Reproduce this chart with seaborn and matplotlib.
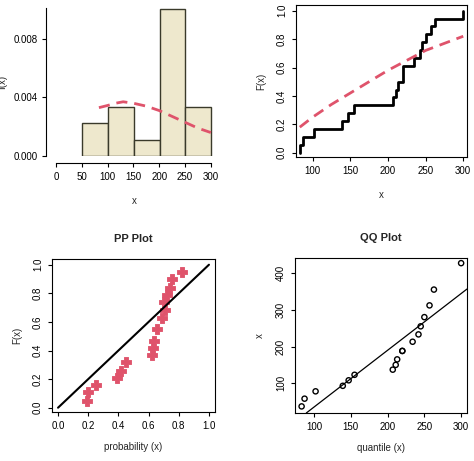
import numpy as np
import matplotlib
matplotlib.use('Agg')
import matplotlib.pyplot as plt
import seaborn as sns

# sorted sample
data = [83, 87, 102, 139, 147, 155, 207, 211, 213, 220, 220, 234, 242, 245, 250, 257, 263, 300]
# right-closed bins like R's hist
bin_edges = [50.5, 100.5, 150.5, 200.5, 250.5, 300.5]

# fitted curves
dens_x = [83, 100, 115, 130, 150, 175, 200, 225, 250, 275, 300]
dens_y = [0.0033, 0.00345, 0.0036, 0.0037, 0.0036, 0.0034, 0.0031, 0.0027, 0.0023, 0.0019, 0.0016]
cdf_x = [83, 100, 125, 150, 175, 200, 225, 250, 275, 300]
cdf_y = [0.18, 0.25, 0.34, 0.42, 0.50, 0.58, 0.65, 0.72, 0.77, 0.82]

pp_x = [0.19, 0.20, 0.25, 0.39, 0.42, 0.45, 0.62, 0.63, 0.635, 0.655, 0.69, 0.71, 0.70, 0.725, 0.74, 0.755, 0.82]
pp_y = [0.05, 0.11, 0.16, 0.21, 0.26, 0.32, 0.37, 0.42, 0.47, 0.55, 0.63, 0.68, 0.74, 0.79, 0.84, 0.90, 0.95]

qq_y = [37, 58, 78, 93, 108, 123, 137, 150, 165, 188, 188, 213, 233, 255, 280, 312, 355, 427]
qq_intercept = -119
qq_slope = 1.544

sns.set_style("ticks")
plt.rcParams['font.family'] = ['Liberation Sans', 'DejaVu Sans']
plt.rcParams['font.size'] = 7
red = '#DF536B'

fig = plt.figure(figsize=(4.74, 4.61), dpi=100)
W, H = 474, 461
def box(x0, y0, x1, y1):
    return fig.add_axes([x0 / W, 1 - y1 / H, (x1 - x0) / W, (y1 - y0) / H])

def rstyle(ax):
    for s in ax.spines.values():
        s.set_visible(True)
        s.set_color('black')
        s.set_linewidth(0.8)
    ax.tick_params(axis='both', labelsize=7, length=3, width=0.8, colors='black')
    for lab in ax.get_yticklabels():
        lab.set_rotation(90)
        lab.set_va('center')

# histogram
ax1 = box(52, 8, 216, 156)
sns.histplot(x=data, bins=bin_edges, stat='density', color='#EEE8CD', edgecolor='#3a3a2a',
             linewidth=1, alpha=1, ax=ax1)
sns.lineplot(x=dens_x, y=dens_y, color=red, lw=2, dashes=(4, 2.5), ax=ax1)
ax1.set_xlim(-8, 310)
ax1.set_ylim(0, 0.0101)
ax1.set_xticks([0, 50, 100, 150, 200, 250, 300])
ax1.set_yticks([0, 0.004, 0.008])
ax1.set_yticklabels(['0.000', '0.004', '0.008'])
rstyle(ax1)
ax1.spines['top'].set_visible(False)
ax1.spines['right'].set_visible(False)
ax1.spines['left'].set_position(('outward', 4))
ax1.spines['bottom'].set_position(('outward', 5))
ax1.spines['bottom'].set_bounds(0, 300)
ax1.set_xlabel('x', fontsize=7, labelpad=10)
ax1.set_ylabel('f(x)', fontsize=7, labelpad=4)

# ECDF
ax2 = box(296, 5, 467, 157)
sns.ecdfplot(x=data, color='black', lw=2, ax=ax2)
sns.lineplot(x=cdf_x, y=cdf_y, color=red, lw=2, dashes=(4, 2.5), ax=ax2)
ax2.set_xlim(78, 305)
ax2.set_ylim(-0.03, 1.04)
ax2.set_xticks([100, 150, 200, 250, 300])
ax2.set_yticks([0, 0.2, 0.4, 0.6, 0.8, 1.0])
ax2.set_yticklabels(['0.0', '0.2', '0.4', '0.6', '0.8', '1.0'])
rstyle(ax2)
ax2.set_xlabel('x', fontsize=7, labelpad=10)
ax2.set_ylabel('F(x)', fontsize=7, labelpad=8)

# PP plot
ax3 = box(52, 259, 215, 412)
ax3.plot([0, 1], [0, 1], color='black', lw=1.5)
sns.scatterplot(x=pp_x, y=pp_y, marker='P', s=60, color=red, edgecolor=red, ax=ax3)
ax3.set_xlim(-0.04, 1.04)
ax3.set_ylim(-0.03, 1.04)
ticks = [0, 0.2, 0.4, 0.6, 0.8, 1.0]
tl = ['0.0', '0.2', '0.4', '0.6', '0.8', '1.0']
ax3.set_xticks(ticks)
ax3.set_xticklabels(tl)
ax3.set_yticks(ticks)
ax3.set_yticklabels(tl)
rstyle(ax3)
ax3.set_title('PP Plot', fontsize=8, fontweight='bold', pad=12)
ax3.set_xlabel('probability (x)', fontsize=7, labelpad=8)
ax3.set_ylabel('F(x)', fontsize=7, labelpad=8)

# QQ plot
ax4 = box(295, 258, 467, 413)
sns.scatterplot(x=data, y=qq_y, marker='o', s=14, facecolor='none', edgecolor='black',
                linewidth=1, ax=ax4)
ax4.axline((0, qq_intercept), slope=qq_slope, color='black', lw=0.9)
ax4.set_xlim(74, 308)
ax4.set_ylim(19, 441)
ax4.set_xticks([100, 150, 200, 250, 300])
ax4.set_yticks([100, 200, 300, 400])
rstyle(ax4)
ax4.set_title('QQ Plot', fontsize=8, fontweight='bold', pad=12)
ax4.set_xlabel('quantile (x)', fontsize=7, labelpad=8)
ax4.set_ylabel('x', fontsize=7, labelpad=8)

fig.savefig('out.png', dpi=100, facecolor='white')
